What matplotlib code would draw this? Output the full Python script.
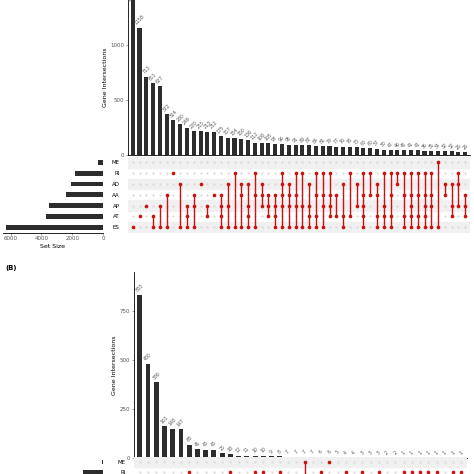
import matplotlib
matplotlib.use("Agg")
import matplotlib.pyplot as plt
import numpy as np

sets = ["ME", "RI", "AD", "AA", "AP", "AT", "ES"]
set_sizes_A = [300, 1800, 2100, 2400, 3500, 3700, 6300]
counts_A = [1430, 1158, 713, 651, 627, 372, 314, 280, 249, 220, 215, 213, 212, 175, 157,
            154, 150, 136, 112, 108, 105, 97, 96, 95, 91, 89, 87, 84, 81, 79, 77, 76, 76,
            73, 63, 60, 57, 50, 47, 46, 45, 41, 41, 36, 35, 34, 32, 32, 26, 26]
members_A = [
    ["ES"], ["AT"], ["AP"], ["AT", "ES"], ["AP", "ES"], ["AA", "ES"], ["RI"], ["AD", "ES"],
    ["AP", "AT", "ES"], ["AA", "AP", "ES"], ["AD"], ["AP", "AT"], ["AA"],
    ["AA", "AP", "AT", "ES"], ["AD", "AP", "ES"], ["RI", "ES"], ["AD", "AA", "ES"],
    ["AD", "AP", "AT", "ES"], ["RI", "AA", "ES"], ["AD", "AA", "AP"], ["AA", "AP", "AT"],
    ["AA", "AP", "AT", "ES"], ["RI", "AD", "AA", "AP", "ES"], ["AD", "AA", "AP", "ES"],
    ["RI", "AA", "AP", "ES"], ["RI", "AP", "ES"], ["AD", "AP", "AT", "ES"],
    ["RI", "AA", "AT", "ES"], ["RI", "AA", "AP", "ES"], ["RI", "AA", "AP", "AT"],
    ["AA", "AT"], ["AD", "AT", "ES"], ["RI", "AT"], ["AD", "AP"],
    ["RI", "AA", "AP", "AT", "ES"], ["RI", "AA"], ["AD", "AA", "AT", "ES"],
    ["RI", "AP", "AT", "ES"], ["RI", "AA", "AT", "ES"], ["RI", "AD"],
    ["RI", "AA", "AT", "ES"], ["RI", "AA", "AP", "AT", "ES"], ["RI", "AA", "AT", "ES"],
    ["RI", "AA", "AP", "AT", "ES"], ["RI", "AA", "AP", "ES"], ["ME", "ES"], ["AD", "AA"],
    ["AD", "AP", "AT"], ["RI", "AD", "AP"], ["AA", "AP", "AT"]]

set_sizes_B = [60, 1300, 1500, 1700, 1900, 2100, 2300]
counts_B = [833, 480, 386, 161, 148, 147, 68, 45, 43, 43, 25, 18, 12, 11, 10, 10, 9, 8, 7, 7,
            7, 7, 6, 6, 5, 4, 4, 3, 3, 3, 2, 2, 1, 1, 1, 1, 1, 1, 1, 1]
ri_cols_B = [7, 12, 15, 16, 18, 23, 26, 28, 30, 33, 34, 35, 36, 37, 39, 40]
me_cols_B = [21, 24]
members_B = []
for i in range(1, 41):
    m = []
    if i in me_cols_B:
        m.append("ME")
    if i in ri_cols_B:
        m.append("RI")
    if i == 21:
        m.append("ES")
    members_B.append(m)

W = H = 474
fig = plt.figure(figsize=(4.74, 4.74), dpi=100)
RED = "#cc1111"
DARK = "#2d2d2d"
FS = 4

def fx(px):
    return px / W

def fy(py):
    return 1 - py / H

def upset(bx0, bx1, by0, by1, rowh, gap, sx0, sx1, counts, members, sizes, ymax, yticks):
    n = len(counts)
    axb = fig.add_axes([fx(bx0), fy(by1), fx(bx1 - bx0), (by1 - by0) / H])
    x = np.arange(n)
    axb.bar(x, counts, width=0.6, color=DARK)
    for xi, c in zip(x, counts):
        axb.text(xi, min(c, ymax * 0.97) + ymax * 0.01, str(c), rotation=45, fontsize=3.3,
                 color="#555555", ha="center", va="bottom", clip_on=True)
    axb.set_xlim(-0.7, n - 0.3)
    axb.set_ylim(0, ymax)
    axb.set_yticks(yticks)
    axb.tick_params(axis="y", labelsize=FS, length=1.5, width=0.4, pad=1, colors="#555555")
    axb.set_xticks([])
    for s in ["top", "right"]:
        axb.spines[s].set_visible(False)
    axb.spines["left"].set_linewidth(0.6)
    axb.spines["bottom"].set_linewidth(0.6)
    axb.set_ylabel("Gene Intersections", fontsize=FS + 0.5, labelpad=2)

    mtop = by1 + gap
    axm = fig.add_axes([fx(bx0), fy(mtop + rowh * 7), fx(bx1 - bx0), rowh * 7 / H])
    axm.set_xlim(-0.7, n - 0.3)
    axm.set_ylim(-0.5, 6.5)
    for r in range(7):
        if r % 2 == 0:
            axm.axhspan(r - 0.5, r + 0.5, color="#f0f0f0", zorder=0)
    yrow = {s: 6 - k for k, s in enumerate(sets)}
    gx, gy = np.meshgrid(x, np.arange(7))
    axm.scatter(gx.ravel(), gy.ravel(), s=2.5, color="#d9d9d9", zorder=1, linewidths=0)
    for xi, m in zip(x, members):
        if not m:
            continue
        ys = [yrow[s] for s in m]
        if len(ys) > 1:
            axm.plot([xi, xi], [min(ys), max(ys)], color=RED, lw=1.0, zorder=2)
        axm.scatter([xi] * len(ys), ys, s=7, color=RED, zorder=3, linewidths=0)
    axm.set_xticks([])
    axm.set_yticks(range(7))
    axm.set_yticklabels(sets[::-1], fontsize=FS)
    axm.tick_params(axis="y", length=0, pad=6)
    for s in axm.spines.values():
        s.set_visible(False)

    axs = fig.add_axes([fx(sx0), fy(mtop + rowh * 7), fx(sx1 - sx0), rowh * 7 / H])
    axs.barh(np.arange(7), sizes[::-1], height=0.45, color=DARK)
    axs.set_ylim(-0.5, 6.5)
    axs.set_xlim(6500, 0)
    axs.set_yticks([])
    for s in ["top", "left", "right"]:
        axs.spines[s].set_visible(False)
    axs.spines["bottom"].set_linewidth(0.6)
    axs.set_xticks([0, 2000, 4000, 6000])
    axs.tick_params(axis="x", labelsize=FS, length=1.5, width=0.4, pad=1, colors="#555555")
    axs.set_xlabel("Set Size", fontsize=FS + 0.5, labelpad=2)
    axs.patch.set_alpha(0)

upset(128, 470, 0, 155, 10.8, 2, 3, 103, counts_A, members_A, set_sizes_A, 1410,
      [0, 500, 1000])
upset(134, 467, 272, 458, 10.0, -1, 3, 103, counts_B, members_B, set_sizes_B, 949,
      [0, 250, 500, 750])

fig.text(fx(5), fy(268), "(B)", fontsize=5, fontweight="bold", va="center")
fig.savefig("out.png", dpi=100)
